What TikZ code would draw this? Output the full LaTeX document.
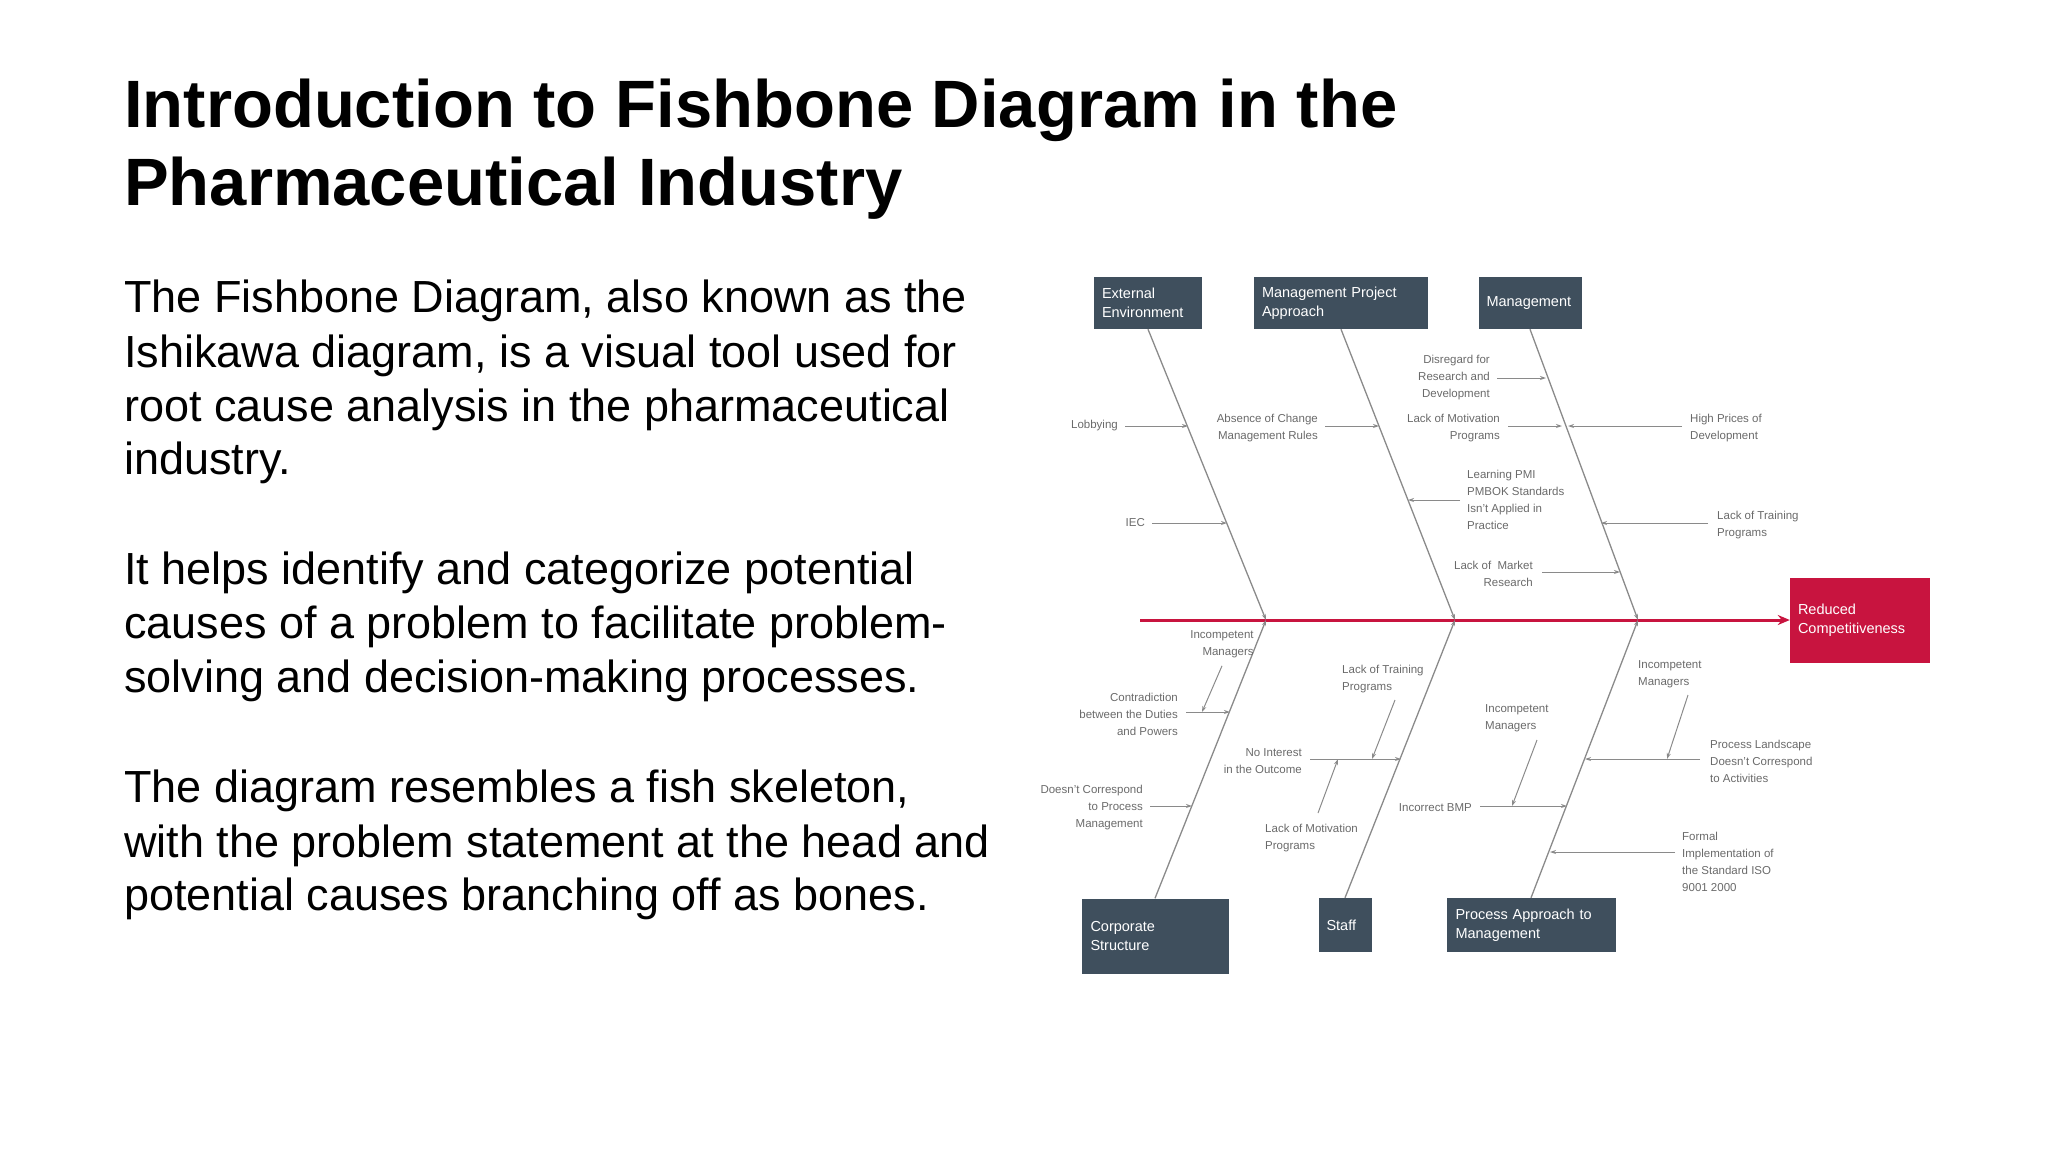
\documentclass[tikz,border=0pt]{standalone}
\usepackage{fontspec}
\setmainfont{Liberation Sans}
\usetikzlibrary{arrows.meta,calc}
\definecolor{slate}{HTML}{3F4F5D}
\definecolor{fishred}{HTML}{C8143F}
\definecolor{bonegray}{HTML}{8A8A8A}
\definecolor{txtgray}{HTML}{6A6A6A}
\begin{document}
\begin{tikzpicture}[x=1pt,y=-1pt,
  ttl/.style={anchor=base west,inner sep=0,font=\fontsize{67}{78}\selectfont\bfseries},
  bodyline/.style={anchor=base west,inner sep=0,font=\fontsize{45}{55}\selectfont},
  catbox/.style={fill=slate,text=white,inner sep=0,align=left,font=\fontsize{14.5}{19}\selectfont},
  headbox/.style={fill=fishred,text=white,inner sep=0,align=left,font=\fontsize{14.5}{19}\selectfont},
  bone/.style={draw=bonegray,line width=1.3pt,-{Stealth[length=6pt,width=4pt]}},
  cause/.style={draw=bonegray,line width=1pt,-{Stealth[length=6pt,width=4pt]}},
  lblr/.style={inner sep=0,align=right,text=txtgray,font=\fontsize{11.5}{17}\selectfont},
  lbll/.style={inner sep=0,align=left,text=txtgray,font=\fontsize{11.5}{17}\selectfont}]
\useasboundingbox (0,0) rectangle (2048,1152);
% title and text
\node[ttl] (t1) at (124,127) {Introduction to Fishbone Diagram in the};
\node[ttl] (t2) at (124,205) {Pharmaceutical Industry};
\node[bodyline] (b1) at (124,312) {The Fishbone Diagram, also known as the};
\node[bodyline] (b2) at (124,367) {Ishikawa diagram, is a visual tool used for};
\node[bodyline] (b3) at (124,421) {root cause analysis in the pharmaceutical};
\node[bodyline] (b4) at (124,474) {industry.};
\node[bodyline] (b5) at (124,584) {It helps identify and categorize potential};
\node[bodyline] (b6) at (124,638) {causes of a problem to facilitate problem-};
\node[bodyline] (b7) at (124,692) {solving and decision-making processes.};
\node[bodyline] (b8) at (124,802) {The diagram resembles a fish skeleton,};
\node[bodyline] (b9) at (124,857) {with the problem statement at the head and};
\node[bodyline] (b10) at (124,910) {potential causes branching off as bones.};
% category boxes
\node[catbox,minimum width=108pt,minimum height=52pt,text width=92pt] (ext) at (1148,303) {External\\Environment};
\node[catbox,minimum width=174pt,minimum height=52pt,text width=158pt] (mpa) at (1341,303) {Management Project\\Approach};
\node[catbox,minimum width=103pt,minimum height=52pt,text width=87pt] (mgt) at (1530,303) {Management};
\node[catbox,minimum width=147pt,minimum height=75pt,text width=129pt] (corp) at (1155,936) {Corporate\\Structure};
\node[catbox,minimum width=53pt,minimum height=54pt,text width=37pt] (staff) at (1345,925) {Staff};
\node[catbox,minimum width=169pt,minimum height=54pt,text width=151pt] (proc) at (1531,925) {Process Approach to\\Management};
\node[headbox,minimum width=140pt,minimum height=85pt,text width=124pt] (head) at (1860,620) {Reduced\\Competitiveness};
% spine
\coordinate (tail) at (1140,620);
\draw[draw=fishred,line width=3pt,-{Stealth[length=12pt,width=10pt]}] (tail) -- (head.west);
\coordinate (j1) at (1266,620);
\coordinate (j2) at (1455,620);
\coordinate (j3) at (1638,620);
\draw[bone] (ext.south) -- (j1);
\draw[bone] (mpa.south) -- (j2);
\draw[bone] (mgt.south) -- (j3);
\draw[bone] (corp.north) -- (j1);
\draw[bone] (staff.north) -- (j2);
\draw[bone] (proc.north) -- (j3);
% External Environment causes
\node[lblr,anchor=east] (lob) at (1118,426) {Lobbying};
\coordinate (lobE) at (1188,426);
\draw[cause] (lob.east) ++(7,0) -- (lobE);
\node[lblr,anchor=east] (iec) at (1145,523) {IEC};
\coordinate (iecE) at (1227,523);
\draw[cause] (iec.east) ++(7,0) -- (iecE);
% Management Project Approach causes
\node[lblr,anchor=east] (abs) at (1318,428) {Absence of Change\\Management Rules};
\coordinate (absE) at (1379,426);
\draw[cause] (1325,426) -- (absE);
\node[lbll,anchor=west] (pmi) at (1467,500) {Learning PMI\\PMBOK Standards\\Isn't Applied in\\Practice};
\coordinate (pmiE) at (1408,500);
\draw[cause] (1460,500) -- (pmiE);
% Management causes
\node[lblr,anchor=east] (dis) at (1490,378) {Disregard for\\Research and\\Development};
\coordinate (disE) at (1546,378);
\draw[cause] (1497,378) -- (disE);
\node[lblr,anchor=east] (lmp) at (1500,428) {Lack of Motivation\\Programs};
\coordinate (lmpE) at (1562,426);
\draw[cause] (1508,426) -- (lmpE);
\node[lbll,anchor=west] (hpd) at (1690,428) {High Prices of\\Development};
\coordinate (hpdE) at (1568,426);
\draw[cause] (1682,426) -- (hpdE);
\node[lbll,anchor=west] (ltp) at (1717,525) {Lack of Training\\Programs};
\coordinate (ltpE) at (1601,523);
\draw[cause] (1708,523) -- (ltpE);
\node[lblr,anchor=east] (lmr) at (1533,574) {Lack of\ \ Market\\Research};
\coordinate (lmrE) at (1620,572);
\draw[cause] (1542,572) -- (lmrE);
% Corporate Structure causes
\node[lblr,anchor=east] (cdp) at (1178,714) {Contradiction\\between the Duties\\and Powers};
\coordinate (cdpE) at (1230,712);
\draw[cause] (1186,712) -- (cdpE);
\node[lblr,anchor=center] (icm1) at (1222,644) {Incompetent\\Managers};
\coordinate (icm1E) at (1202,712);
\draw[cause] (icm1.south) ++(0,8) -- (icm1E);
\node[lblr,anchor=east] (dcp) at (1143,808) {Doesn't Correspond\\to Process\\Management};
\coordinate (dcpE) at (1192,806);
\draw[cause] (1150,806) -- (dcpE);
% Staff causes
\node[lblr,anchor=east] (nio) at (1302,761) {No Interest\\in the Outcome};
\coordinate (nioE) at (1401,759);
\draw[cause] (1310,759) -- (nioE);
\node[lbll,anchor=west] (sltp) at (1342,679) {Lack of Training\\Programs};
\coordinate (sltpE) at (1372,759);
\draw[cause] (1395,700) -- (sltpE);
\node[lbll,anchor=west] (slmp) at (1265,838) {Lack of Motivation\\Programs};
\coordinate (slmpE) at (1338,759);
\draw[cause] (1318,813) -- (slmpE);
% Process Approach causes
\node[lblr,anchor=east] (bmp) at (1472,808) {Incorrect BMP};
\coordinate (bmpE) at (1567,806);
\draw[cause] (1480,806) -- (bmpE);
\node[lbll,anchor=west] (icm2) at (1485,718) {Incompetent\\Managers};
\coordinate (icm2E) at (1512,806);
\draw[cause] (1537,740) -- (icm2E);
\node[lbll,anchor=west] (pld) at (1710,761) {Process Landscape\\Doesn't Correspond\\to Activities};
\coordinate (pldE) at (1585,759);
\draw[cause] (1700,759) -- (pldE);
\node[lbll,anchor=west] (icm3) at (1638,674) {Incompetent\\Managers};
\coordinate (icm3E) at (1667,759);
\draw[cause] (1688,695) -- (icm3E);
\node[lbll,anchor=west] (fis) at (1682,862) {Formal\\Implementation of\\the Standard ISO\\9001 2000};
\coordinate (fisE) at (1550,852);
\draw[cause] (1675,852) -- (fisE);
\end{tikzpicture}
\end{document}
